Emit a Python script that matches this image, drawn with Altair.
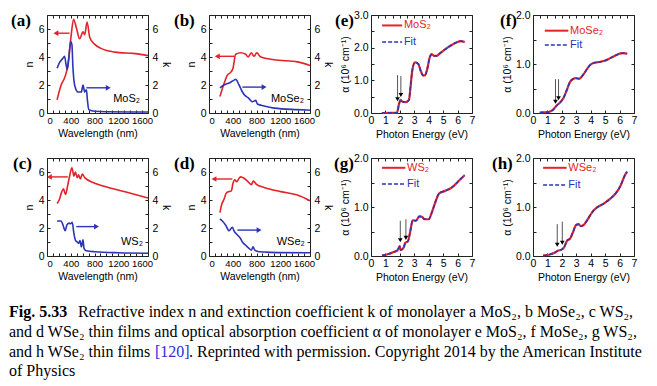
import altair as alt
import pandas as pd

RED = "#e2232a"
BLUE = "#2c35b5"
SANS = "Liberation Sans"
SERIF = "Liberation Serif"
W, H = 101, 98

# ---------------- data: refractive index n and extinction coefficient k ----------------
a_n_wl = [170, 238, 295, 350, 380, 408, 447, 493, 550, 606, 635, 674, 720, 805, 918, 1144, 1484, 1700]
a_n = [0.94, 2.0, 2.5, 3.4, 4.5, 5.6, 6.7, 6.1, 5.3, 5.8, 5.6, 6.5, 5.4, 4.9, 4.6, 4.35, 4.24, 4.1]
a_k_wl = [170, 210, 266, 295, 323, 340, 368, 397, 419, 436, 465, 521, 578, 606, 635, 663, 680, 703, 805, 1000, 1700]
a_k = [3.2, 3.6, 3.9, 4.05, 3.4, 3.1, 3.9, 5.1, 4.9, 3.3, 2.0, 1.5, 1.5, 2.0, 1.5, 1.65, 0.94, 0.24, 0.12, 0.09, 0.07]

b_n_wl = [185, 253, 309, 365, 404, 449, 534, 618, 657, 713, 758, 803, 871, 1096, 1489, 1700]
b_n = [1.18, 2.1, 2.7, 2.9, 3.2, 4.2, 4.3, 4.2, 4.0, 4.3, 4.05, 4.3, 4.0, 3.8, 3.65, 3.4]
b_k_wl = [185, 253, 309, 365, 421, 449, 506, 562, 618, 657, 691, 730, 787, 815, 927, 1096, 1489, 1700]
b_k = [1.8, 2.0, 2.1, 2.2, 2.35, 2.4, 2.0, 1.5, 1.2, 1.1, 0.94, 0.8, 0.9, 0.64, 0.5, 0.35, 0.24, 0.2]

c_n_wl = [170, 210, 249, 277, 311, 351, 380, 419, 453, 476, 510, 532, 561, 595, 635, 805, 1031, 1258, 1484, 1700]
c_n = [3.75, 4.05, 4.6, 4.8, 4.4, 5.1, 5.7, 6.3, 5.7, 6.0, 5.6, 5.8, 5.5, 5.85, 5.6, 5.2, 4.9, 4.65, 4.4, 4.15]
c_k_wl = [170, 238, 266, 306, 334, 368, 397, 425, 453, 481, 510, 532, 555, 578, 606, 623, 663, 805, 1201, 1700]
c_k = [2.5, 2.5, 2.25, 1.8, 2.2, 2.35, 2.3, 2.4, 1.6, 1.1, 1.0, 0.9, 1.1, 0.65, 1.15, 0.55, 0.37, 0.3, 0.23, 0.2]

d_n_wl = [185, 208, 253, 292, 337, 376, 404, 433, 466, 506, 534, 590, 646, 713, 747, 803, 927, 1208, 1489, 1700]
d_n = [3.1, 3.6, 4.05, 4.5, 4.6, 4.65, 5.2, 5.45, 5.3, 5.55, 5.65, 5.55, 5.35, 5.1, 5.35, 5.1, 4.9, 4.6, 4.35, 3.95]
d_k_wl = [185, 225, 281, 337, 393, 421, 478, 522, 562, 618, 674, 713, 742, 770, 843, 1039, 1700]
d_k = [2.65, 2.5, 2.2, 1.8, 2.05, 1.8, 1.5, 1.3, 1.0, 0.77, 0.54, 0.42, 0.65, 0.42, 0.3, 0.26, 0.23]

# ---------------- data: absorption coefficient alpha (10^6 cm^-1) ----------------
e_eV = [0.75, 1.8, 1.93, 2.05, 2.16, 2.4, 2.63, 2.74, 2.86, 3.05, 3.28, 3.44, 3.6, 3.74, 3.9, 4.07, 4.2, 4.37, 4.53, 4.84, 5.3, 5.88, 6.23, 6.5]
e_a = [0.0, 0.01, 0.25, 0.4, 0.35, 0.33, 0.4, 0.8, 1.3, 1.55, 1.5, 1.3, 1.15, 1.15, 1.35, 1.7, 1.8, 1.75, 1.75, 1.85, 2.0, 2.15, 2.2, 2.17]

f_eV = [0.47, 1.05, 1.4, 1.63, 1.86, 2.1, 2.33, 2.56, 2.75, 2.98, 3.2, 3.5, 3.73, 3.96, 4.2, 4.55, 4.9, 5.36, 5.83, 6.18, 6.53]
f_a = [0.01, 0.02, 0.07, 0.15, 0.21, 0.3, 0.46, 0.63, 0.69, 0.71, 0.7, 0.79, 0.89, 0.98, 1.02, 1.04, 1.06, 1.12, 1.19, 1.22, 1.21]

g_eV = [0.76, 1.22, 1.57, 1.85, 1.99, 2.05, 2.26, 2.38, 2.56, 2.72, 2.89, 3.12, 3.35, 3.53, 3.72, 4.0, 4.23, 4.46, 4.73, 5.15, 5.61, 6.07, 6.49]
g_a = [0.01, 0.04, 0.08, 0.12, 0.2, 0.12, 0.17, 0.27, 0.3, 0.5, 0.73, 0.72, 0.81, 0.8, 0.75, 0.75, 0.9, 1.1, 1.28, 1.33, 1.4, 1.53, 1.65]

h_eV = [0.7, 1.17, 1.52, 1.75, 1.98, 2.14, 2.38, 2.56, 2.75, 2.98, 3.15, 3.31, 3.5, 3.73, 3.96, 4.2, 4.43, 4.9, 5.36, 5.71, 6.06, 6.41, 6.53]
h_a = [0.01, 0.03, 0.07, 0.11, 0.13, 0.17, 0.32, 0.35, 0.47, 0.63, 0.65, 0.61, 0.63, 0.72, 0.83, 0.93, 0.99, 1.07, 1.17, 1.27, 1.43, 1.67, 1.72]

# annotation anchors (data coordinates)
nk_labels = {"a": ("MoS₂", 1340, 1.0), "b": ("MoSe₂", 1320, 1.0), "c": ("WS₂", 1430, 1.0), "d": ("WSe₂", 1376, 1.0)}
nk_red_arrows = {"a": (380, 150, 5.7), "b": (433, 140, 4.05), "c": (351, 40, 5.65), "d": (393, 84, 5.5)}
nk_blue_arrows = {"a": (663, 1031, 1.8), "b": (562, 927, 1.85), "c": (493, 833, 2.1), "d": (478, 843, 1.85)}

al_legend = {"e": ("MoS₂", 0.77, 2.16, 2.68, 2.17), "f": ("MoSe₂", 0.82, 2.45, 1.68, 1.39),
             "g": ("WS₂", 0.76, 2.38, 1.8, 1.47), "h": ("WSe₂", 0.7, 2.33, 1.8, 1.45)}
al_arrows = {"e": ([1.84, 2.07], [1.16, 1.13], [0.42, 0.55]),
             "f": ([1.56, 1.77], [0.69, 0.69], [0.23, 0.30]),
             "g": ([2.03, 2.42], [0.72, 0.75], [0.32, 0.37]),
             "h": ([1.68, 2.03], [0.65, 0.70], [0.23, 0.27])}
al_ymax = {"e": 3.0, "f": 2.0, "g": 2.0, "h": 2.0}
letter_dx = {"a": -36, "b": -35, "c": -34, "d": -35, "e": -36, "f": -33, "g": -37, "h": -41}


def letter_layer(letter):
    return alt.Chart(pd.DataFrame({"t": ["(" + letter + ")"]})).mark_text(
        font=SERIF, fontSize=17, fontWeight="bold", align="left", baseline="alphabetic", color="black"
    ).encode(x=alt.value(letter_dx[letter]), y=alt.value(11), text="t:N")


def nk_panel(letter, n_wl, n_vals, k_wl, k_vals):
    xs = alt.Scale(domain=[0, 1700], nice=False, zero=False)
    ys = alt.Scale(domain=[0, 7], nice=False)
    xticks = list(range(0, 1701, 100))
    yticks = list(range(0, 8))
    bottom = alt.Axis(orient="bottom", values=xticks, format="d",
                      labelExpr="datum.value % 400 === 0 ? datum.label : ''", labelFontSize=9.5,
                      title="Wavelength (nm)", offset=-3, tickSize=3, labelPadding=2, titlePadding=4)
    top = alt.Axis(orient="top", values=xticks, labels=False, title=None, offset=-3, tickSize=3)
    left = alt.Axis(orient="left", values=yticks, labelExpr="datum.value % 2 === 0 ? datum.label : ''",
                    title="n", offset=-3, tickSize=3, labelPadding=3, titlePadding=4)
    right = alt.Axis(orient="right", values=yticks, labelExpr="datum.value % 2 === 0 ? datum.label : ''",
                     title="k", offset=-3, tickSize=3, labelPadding=4, titlePadding=3)

    n_line = alt.Chart(pd.DataFrame({"wl": n_wl, "v": n_vals})).mark_line(
        color=RED, strokeWidth=1.6, interpolate="monotone").encode(
        x=alt.X("wl:Q", scale=xs, axis=bottom), y=alt.Y("v:Q", scale=ys, axis=left))
    k_line = alt.Chart(pd.DataFrame({"wl": k_wl, "v": k_vals})).mark_line(
        color=BLUE, strokeWidth=1.6, interpolate="monotone").encode(
        x=alt.X("wl:Q", scale=xs, axis=top), y=alt.Y("v:Q", scale=ys, axis=right))

    rt, rh, ry = nk_red_arrows[letter]
    bt, bh, by = nk_blue_arrows[letter]
    arr = pd.DataFrame({"x1": [rt, bt], "x2": [rh, bh], "y": [ry, by],
                        "c": [RED, BLUE], "s": ["triangle-left", "triangle-right"]})
    rules = alt.Chart(arr).mark_rule(strokeWidth=1.4).encode(
        x=alt.X("x1:Q", scale=xs, axis=None), x2="x2:Q",
        y=alt.Y("y:Q", scale=ys, axis=None), color=alt.Color("c:N", scale=None))
    heads = alt.Chart(arr).mark_point(filled=True, size=32, opacity=1).encode(
        x=alt.X("x2:Q", scale=xs, axis=None), y=alt.Y("y:Q", scale=ys, axis=None),
        color=alt.Color("c:N", scale=None), shape=alt.Shape("s:N", scale=None))

    name, lx, ly = nk_labels[letter]
    lab = alt.Chart(pd.DataFrame({"t": [name], "x": [lx], "y": [ly]})).mark_text(
        font=SANS, fontSize=11, color="black", align="center", baseline="middle").encode(
        x=alt.X("x:Q", scale=xs, axis=None), y=alt.Y("y:Q", scale=ys, axis=None), text="t:N")

    return [n_line, k_line, rules, heads, lab, letter_layer(letter)]


def alpha_panel(letter, eV, a_vals):
    ymax = al_ymax[letter]
    xs = alt.Scale(domain=[0, 7], nice=False, zero=False)
    ys = alt.Scale(domain=[0, ymax], nice=False)
    yt = [i * 0.5 for i in range(int(ymax * 2) + 1)]
    xt = list(range(0, 8))
    xt_minor = [i * 0.5 for i in range(15)]
    bottom = alt.Axis(orient="bottom", values=xt, format="d", title="Photon Energy (eV)", labelFlush=False,
                      offset=-3, tickSize=3, labelPadding=2, titlePadding=4)
    top = alt.Axis(orient="top", values=xt_minor, labels=False, title=None, offset=-3, tickSize=3)
    left = alt.Axis(orient="left", values=yt,
                    labelExpr="datum.value % 1 === 0 ? format(datum.value, '.1f') : ''",
                    title="α (10⁶ cm⁻¹)", offset=-3, tickSize=3, labelPadding=3, titlePadding=3)
    right = alt.Axis(orient="right", values=yt, labels=False, title=None, offset=-3, tickSize=3)

    df = pd.DataFrame({"e": eV, "a": a_vals})
    meas = alt.Chart(df).mark_line(color=RED, strokeWidth=2.2, interpolate="monotone").encode(
        x=alt.X("e:Q", scale=xs, axis=bottom), y=alt.Y("a:Q", scale=ys, axis=left))
    fit = alt.Chart(df).mark_line(color=BLUE, strokeWidth=1.5, strokeDash=[4, 2], interpolate="monotone").encode(
        x=alt.X("e:Q", scale=xs, axis=top), y=alt.Y("a:Q", scale=ys, axis=right))

    name, lx1, lx2, yr, yb = al_legend[letter]
    leg = pd.DataFrame({"x1": [lx1, lx1], "x2": [lx2, lx2], "y": [yr, yb], "t": [name, "Fit"],
                        "c": [RED, BLUE], "tx": [lx2 + 0.12, lx2 + 0.12]})
    leg_red = alt.Chart(leg.iloc[[0]]).mark_rule(strokeWidth=2, color=RED).encode(
        x=alt.X("x1:Q", scale=xs, axis=None), x2="x2:Q", y=alt.Y("y:Q", scale=ys, axis=None))
    leg_blue = alt.Chart(leg.iloc[[1]]).mark_rule(strokeWidth=1.5, color=BLUE, strokeDash=[4, 2]).encode(
        x=alt.X("x1:Q", scale=xs, axis=None), x2="x2:Q", y=alt.Y("y:Q", scale=ys, axis=None))
    leg_txt = alt.Chart(leg).mark_text(font=SANS, fontSize=11, align="left", baseline="middle").encode(
        x=alt.X("tx:Q", scale=xs, axis=None), y=alt.Y("y:Q", scale=ys, axis=None),
        text="t:N", color=alt.Color("c:N", scale=None))

    ax, atop, atip = al_arrows[letter]
    arr = pd.DataFrame({"x": ax, "y1": atop, "y2": atip})
    arr_rule = alt.Chart(arr).mark_rule(strokeWidth=1, color="#555555").encode(
        x=alt.X("x:Q", scale=xs, axis=None), y=alt.Y("y1:Q", scale=ys, axis=None), y2="y2:Q")
    arr_head = alt.Chart(arr).mark_point(shape="triangle-down", filled=True, size=22, color="black", opacity=1).encode(
        x=alt.X("x:Q", scale=xs, axis=None), y=alt.Y("y2:Q", scale=ys, axis=None))

    return [meas, fit, leg_red, leg_blue, leg_txt, arr_rule, arr_head, letter_layer(letter)]


def caption_layers():
    segs = [
        ("Fig. 5.33", -38, 159, "bold", "black"),
        ("Refractive index n and extinction coefficient k of monolayer a MoS₂, b MoSe₂, c WS₂,", 31, 159, "normal", "black"),
        ("and d WSe₂ thin films and optical absorption coefficient α of monolayer e MoS₂, f MoSe₂, g WS₂,", -38, 179, "normal", "black"),
        ("and h WSe₂ thin films", -38, 199, "normal", "black"),
        ("[120]", 108, 199, "normal", "#2b2bd8"),
        (". Reprinted with permission. Copyright 2014 by the American Institute", 142, 199, "normal", "black"),
        ("of Physics", -38, 218, "normal", "black"),
    ]
    out = []
    for t, x, y, wgt, col in segs:
        out.append(alt.Chart(pd.DataFrame({"t": [t]})).mark_text(
            font=SERIF, fontSize=16, fontWeight=wgt, color=col, align="left", baseline="alphabetic"
        ).encode(x=alt.value(x), y=alt.value(y), text="t:N"))
    return out


def make(layers):
    return alt.layer(*layers).resolve_axis(x="independent", y="independent").properties(width=W, height=H)


pa = make(nk_panel("a", a_n_wl, a_n, a_k_wl, a_k))
pb = make(nk_panel("b", b_n_wl, b_n, b_k_wl, b_k))
pc = make(nk_panel("c", c_n_wl, c_n, c_k_wl, c_k) + caption_layers())
pd_ = make(nk_panel("d", d_n_wl, d_n, d_k_wl, d_k))
pe = make(alpha_panel("e", e_eV, e_a))
pf = make(alpha_panel("f", f_eV, f_a))
pg = make(alpha_panel("g", g_eV, g_a))
ph = make(alpha_panel("h", h_eV, h_a))

chart = alt.concat(pa, pb, pe, pf, pc, pd_, pg, ph, columns=4,
                   spacing={"row": 45, "column": 61}, bounds="flush").properties(
    padding={"left": 0, "top": 1, "right": 5, "bottom": 0}
).configure_view(stroke="#222222", strokeWidth=1).configure_axis(
    labelFont=SANS, labelFontSize=10.5, labelColor="black",
    titleFont=SANS, titleFontSize=10.5, titleFontWeight="normal", titleColor="black",
    tickColor="#222222", tickWidth=1, grid=False, domain=False
)

chart.save("out.html", embed_options={"renderer": "svg", "actions": False})
